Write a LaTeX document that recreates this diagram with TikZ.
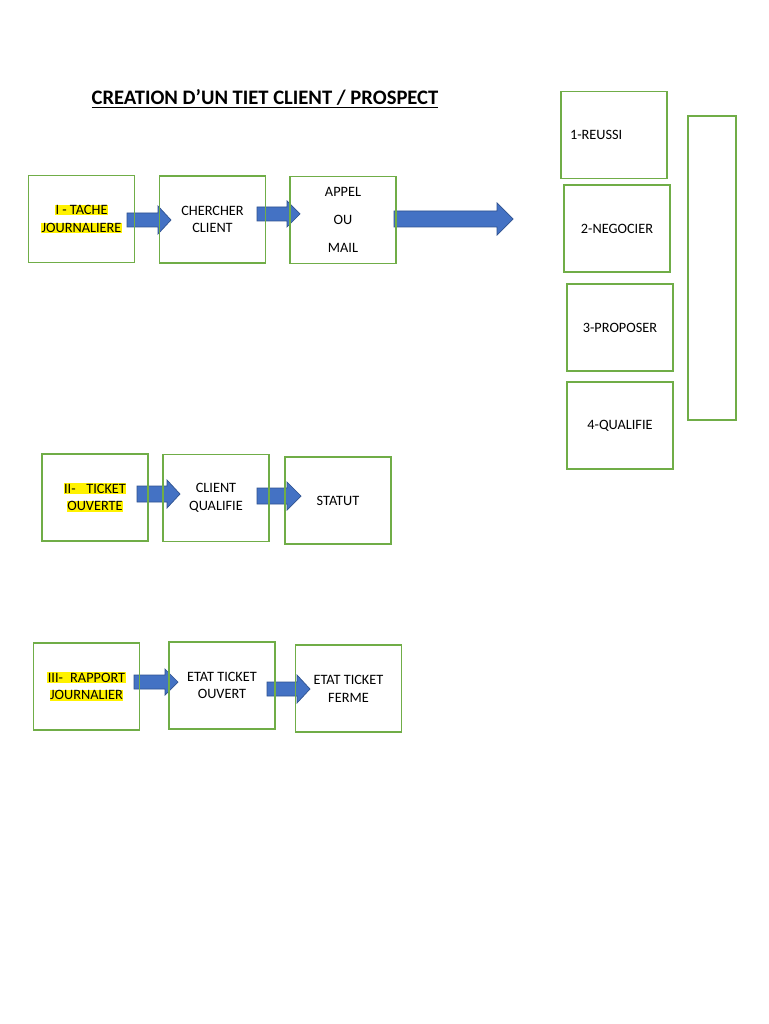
\documentclass[tikz,border=0pt]{standalone}
\usepackage{fontspec}
\setmainfont{Carlito}
\usetikzlibrary{positioning}
\definecolor{boxgreen}{HTML}{70AD47}
\definecolor{arrowblue}{HTML}{4472C4}
\definecolor{arrowedge}{HTML}{2F528F}
\newcommand{\hl}[1]{{\setlength{\fboxsep}{0.5pt}\colorbox{yellow}{#1}}}
% tail x, tip x, mid y, shaft half, head half, head length
\newcommand{\bigarrow}[6]{%
  \draw[blockarrow] (#1,#3-#4) -- (#2-#6,#3-#4) -- (#2-#6,#3-#5) -- (#2,#3)
    -- (#2-#6,#3+#5) -- (#2-#6,#3+#4) -- (#1,#3+#4) -- cycle;}
\tikzset{x=1pt, y=-1pt,
    stepbox/.style={draw=boxgreen, line width=1.2pt, minimum width=106pt,
      minimum height=87pt, align=center, inner sep=2pt,
      font=\fontsize{14.3}{17.8}\selectfont},
    blockarrow/.style={fill=arrowblue, draw=arrowedge, line width=0.7pt}}

\begin{document}
\begin{tikzpicture}
    \fill[white] (0,0) rectangle (768,1024);
    \useasboundingbox (0,0) rectangle (768,1024);

    \node[font=\bfseries\fontsize{20.6}{23}\selectfont] (title) at (265,98.5)
      {\underline{CREATION D'UN TIET CLIENT / PROSPECT}};

    % block arrows
    \bigarrow{127}{171}{220}{7}{14}{13}
    \bigarrow{257}{300}{214}{7}{13}{13}
    \bigarrow{394}{513}{219}{8}{16}{16}
    \bigarrow{137}{180}{494}{8}{14}{13}
    \bigarrow{257}{301}{496}{8}{14}{14}
    \bigarrow{134}{178}{682}{7}{13}{13}
    \bigarrow{267}{310}{689}{7}{14}{13}

    % row 1
    \node[stepbox] (tache) at (81.5,219) {\hl{I - TACHE}\\\hl{JOURNALIERE}};
    \node[stepbox] (chercher) at (212.5,219.5) {CHERCHER\\CLIENT};
    \node[stepbox, font=\fontsize{14.3}{28}\selectfont] (appel) at (343,220)
      {APPEL\\OU\\MAIL};

    % right column
    \node[stepbox, line width=1.8pt, text width=88pt, align=left,
      inner xsep=9pt] (reussi) at (614,135) {1-REUSSI};
    \node[stepbox] (negocier) at (617,228.5) {2-NEGOCIER};
    \node[stepbox] (proposer) at (620,327.5) {3-PROPOSER};
    \node[stepbox] (qualifie) at (620,425.5) {4-QUALIFIE};
    \node[stepbox, minimum width=48pt, minimum height=304pt] (colonne)
      at (712,268) {};

    % row 2
    \node[stepbox] (ticket) at (95,497.5) {\hl{II-\hspace{0.75em}TICKET}\\\hl{OUVERTE}};
    \node[stepbox] (clientq) at (216,498) {CLIENT\\QUALIFIE};
    \node[stepbox] (statut) at (338,500.5) {STATUT};

    % row 3
    \node[stepbox] (rapport) at (86.5,686.5) {\hl{III-\hspace{0.5em}RAPPORT}\\\hl{JOURNALIER}};
    \node[stepbox] (ouvert) at (222,685.5) {ETAT TICKET\\OUVERT};
    \node[stepbox] (ferme) at (348.5,688.5) {ETAT TICKET\\FERME};
\end{tikzpicture}
\end{document}
